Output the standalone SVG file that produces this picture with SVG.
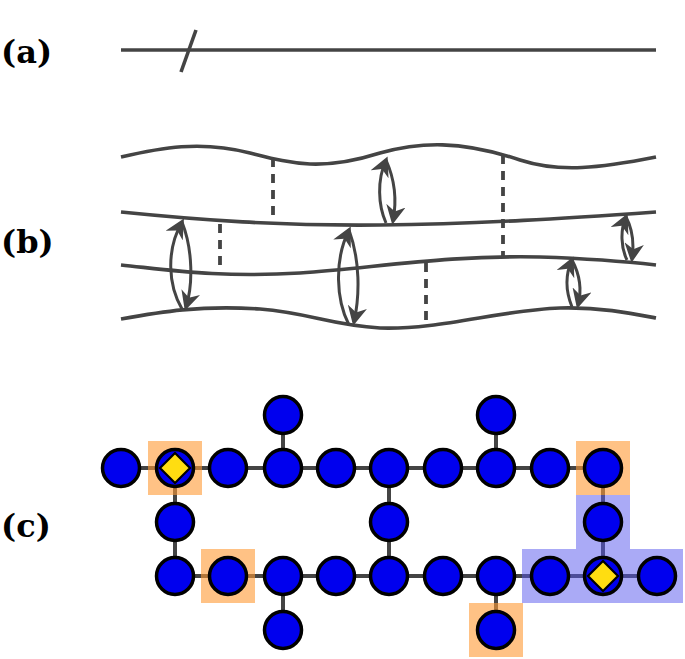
<svg xmlns="http://www.w3.org/2000/svg" width="685" height="659" viewBox="0 0 685 659">
<style>
.lbl{font-family:"DejaVu Serif","Liberation Serif",serif;font-weight:bold;font-size:32px;fill:#000}
.ln{fill:none;stroke:#444;stroke-width:3.6}
.dash{fill:none;stroke:#444;stroke-width:3.8;stroke-dasharray:9,7}
.ar{fill:none;stroke:#444;stroke-width:3;marker-end:url(#ah)}
.e{stroke:#444;stroke-width:4}
.n{fill:#0000ee;stroke:#000;stroke-width:3.5}
.hl{fill:#ff9933;fill-opacity:0.6}
.dm{fill:#ffdd11;stroke:#000;stroke-width:2.2}
</style>
<defs>
<marker id="ah" viewBox="0 0 10 10" refX="8" refY="5" markerWidth="6.5" markerHeight="6.5" orient="auto" markerUnits="strokeWidth">
<path d="M0,0 L10,5 L0,10 L3,5 Z" fill="#444"/>
</marker>
</defs>
<text class="lbl" x="1" y="63">(a)</text>
<text class="lbl" x="1" y="253">(b)</text>
<text class="lbl" x="1" y="537">(c)</text>
<g id="a">
<line class="ln" x1="121" y1="50" x2="656" y2="50"/>
<line class="ln" x1="181" y1="72" x2="196" y2="30"/>
</g>
<g id="b">
<path class="ln" d="M121,157 C160,148 200,140 250,153 C290,163 320,172 380,153 C420,142 460,140 520,160 C560,173 600,168 656,157"/>
<path class="ln" d="M121,212 C200,220 280,226 380,225 C480,224 570,218 656,212"/>
<path class="ln" d="M121,265 C170,270 220,278 300,273 C380,267 450,255 540,257 C600,259 630,262 656,265"/>
<path class="ln" d="M121,319 C160,312 200,305 260,309 C310,313 330,325 380,328 C440,330 500,310 560,308 C600,307 630,313 656,318"/>
<line class="dash" x1="273" y1="158" x2="273" y2="221"/>
<line class="dash" x1="220" y1="224" x2="220" y2="268"/>
<line class="dash" x1="503" y1="155" x2="503" y2="256"/>
<line class="dash" x1="426" y1="263" x2="426" y2="326"/>
<path class="ar" d="M182,309 C168,285 166,250 182,222"/>
<path class="ar" d="M182,222 C193,250 193,285 186,307"/>
<path class="ar" d="M349,325 C336,300 334,260 349,230"/>
<path class="ar" d="M349,230 C360,260 360,295 354,322"/>
<path class="ar" d="M386,223 C378,205 377,180 386,160"/>
<path class="ar" d="M386,160 C395,180 397,200 393,221"/>
<path class="ar" d="M572,307 C566,292 565,275 572,260"/>
<path class="ar" d="M572,260 C580,275 582,290 578,305"/>
<path class="ar" d="M627,260 C621,248 620,230 626,217"/>
<path class="ar" d="M626,217 C633,230 634,245 632,259"/>
</g>
<g id="connectors">
<line class="e" x1="121" y1="468" x2="603" y2="468"/>
<line class="e" x1="175" y1="576" x2="657" y2="576"/>
<line class="e" x1="283" y1="415" x2="283" y2="468"/>
<line class="e" x1="496" y1="415" x2="496" y2="468"/>
<line class="e" x1="175" y1="468" x2="175" y2="576"/>
<line class="e" x1="389" y1="468" x2="389" y2="576"/>
<line class="e" x1="603" y1="468" x2="603" y2="576"/>
<line class="e" x1="283" y1="576" x2="283" y2="630"/>
<line class="e" x1="496" y1="576" x2="496" y2="630"/>
</g>
<g id="highlights">
<rect class="hl" x="148" y="441" width="54" height="54"/>
<rect class="hl" x="201" y="549" width="54" height="54"/>
<rect class="hl" x="576" y="441" width="54" height="54"/>
<rect class="hl" x="469" y="603" width="54" height="54"/>
<path d="M576,495 H630 V549 H683 V603 H522 V549 H576 Z" fill="#5555ee" fill-opacity="0.5"/>
</g>
<g id="nodes">
<circle id="t0" class="n" cx="121" cy="468" r="18.5"/>
<circle id="t1" class="n" cx="175" cy="468" r="18.5"/>
<circle id="t2" class="n" cx="228" cy="468" r="18.5"/>
<circle id="t3" class="n" cx="283" cy="468" r="18.5"/>
<circle id="t4" class="n" cx="336" cy="468" r="18.5"/>
<circle id="t5" class="n" cx="389" cy="468" r="18.5"/>
<circle id="t6" class="n" cx="443" cy="468" r="18.5"/>
<circle id="t7" class="n" cx="496" cy="468" r="18.5"/>
<circle id="t8" class="n" cx="550" cy="468" r="18.5"/>
<circle id="t9" class="n" cx="603" cy="468" r="18.5"/>
<circle id="u0" class="n" cx="283" cy="415" r="18.5"/>
<circle id="u1" class="n" cx="496" cy="415" r="18.5"/>
<circle id="m0" class="n" cx="175" cy="522" r="18.5"/>
<circle id="m1" class="n" cx="389" cy="522" r="18.5"/>
<circle id="m2" class="n" cx="603" cy="522" r="18.5"/>
<circle id="b0" class="n" cx="175" cy="576" r="18.5"/>
<circle id="b1" class="n" cx="228" cy="576" r="18.5"/>
<circle id="b2" class="n" cx="283" cy="576" r="18.5"/>
<circle id="b3" class="n" cx="336" cy="576" r="18.5"/>
<circle id="b4" class="n" cx="389" cy="576" r="18.5"/>
<circle id="b5" class="n" cx="443" cy="576" r="18.5"/>
<circle id="b6" class="n" cx="496" cy="576" r="18.5"/>
<circle id="b7" class="n" cx="550" cy="576" r="18.5"/>
<circle id="b8" class="n" cx="603" cy="576" r="18.5"/>
<circle id="b9" class="n" cx="657" cy="576" r="18.5"/>
<circle id="d0" class="n" cx="283" cy="630" r="18.5"/>
<circle id="d1" class="n" cx="496" cy="630" r="18.5"/>
<path class="dm" d="M175,453 L190,468 L175,483 L160,468 Z"/>
<path class="dm" d="M603,561 L618,576 L603,591 L588,576 Z"/>
</g>
</svg>
